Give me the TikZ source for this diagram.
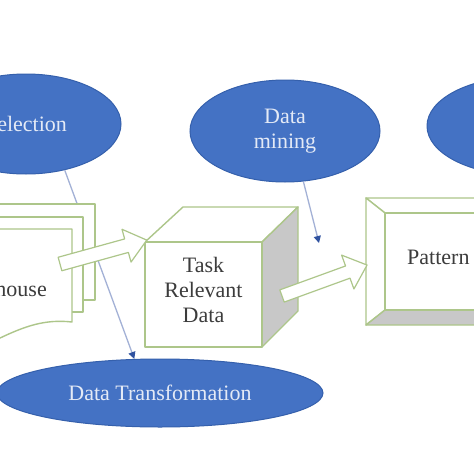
\documentclass[tikz,border=0pt]{standalone}
\usepackage{fontspec}
\setmainfont{Liberation Serif}
\usetikzlibrary{shapes.geometric,arrows.meta}
\definecolor{eblue}{HTML}{4472C4}
\definecolor{eborder}{HTML}{3560AC}
\definecolor{etext}{HTML}{E4EAF6}
\definecolor{boxgreen}{HTML}{ADC68A}
\definecolor{facegrey}{HTML}{C8C8C8}
\definecolor{conncol}{HTML}{A3B1D6}
\definecolor{tipcol}{HTML}{2F52A0}
\definecolor{boxtext}{HTML}{3C3C3C}
\begin{document}
\begin{tikzpicture}[x=1pt,y=-1pt,
  oval/.style={ellipse, fill=eblue, draw=eborder, line width=1pt, text=etext, inner sep=0pt, font=\fontsize{22}{25}\selectfont, align=center},
  face/.style={draw=boxgreen, line width=1.4pt, line join=round, fill=white},
  greyface/.style={face, fill=facegrey},
  conn/.style={draw=conncol, line width=1.3pt, -{Triangle[length=7pt,width=7pt,color=tipcol]}},
  boxlabel/.style={text=boxtext, font=\fontsize{22}{25}\selectfont, align=center, inner sep=0pt},
  blockarrow/.style={face, line width=1.2pt}]
\useasboundingbox (0,0) rectangle (474,474);
\fill[white] (0,0) rectangle (474,474);
\clip (0,0) rectangle (474,474);

% ellipses
\node[oval, minimum width=190pt, minimum height=100pt] (sel) at (26,124) {Selection};
\node[oval, minimum width=190pt, minimum height=102pt] (dm) at (285,131) {Data\\mining};
\node[oval, minimum width=190pt, minimum height=98pt] (ev) at (522,126) {};
\node[oval, minimum width=326pt, minimum height=68pt] (dt) at (160,393) {Data Transformation};

% connectors
\draw[conn] (sel.-50) -- (dt.127);
\coordinate (dmend) at (319,243);
\draw[conn] (dm.-70) -- (dmend);

% document stack
\draw[face] (-60,204) rectangle (95,300);
\draw[face] (-60,217) rectangle (83,312);
\draw[face] (-60,229) -- (72,229) -- (72,322) .. controls (45,319) and (25,326) .. (-2,339) -- (-60,339) -- cycle;
\node[boxlabel, anchor=base east] (dw) at (47,296) {Data Warehouse};

% cube
\draw[face] (145,242) -- (183,207) -- (298,207) -- (262,242) -- cycle;
\draw[greyface] (262,242) -- (298,207) -- (298,311) -- (262,347) -- cycle;
\draw[face] (145,242) rectangle (262,347);
\node[boxlabel] (trd) at (203.5,290) {Task\\Relevant\\Data};

% bevel box
\draw[face] (366,198) -- (490,198) -- (490,213) -- (385,213) -- cycle;
\draw[face] (366,198) -- (385,213) -- (385,310) -- (366,325) -- cycle;
\draw[greyface] (366,325) -- (385,310) -- (490,310) -- (490,325) -- cycle;
\draw[face] (385,213) rectangle (490,310);
\node[boxlabel, anchor=west] (pat) at (407,257) {Pattern};

% block arrows
\begin{scope}[shift={(60,264)}, rotate=15.4]
\draw[blockarrow] (0,-7) -- (69,-7) -- (69,-17) -- (90,0) -- (69,17) -- (69,7) -- (0,7) -- cycle;
\end{scope}
\begin{scope}[shift={(282,296)}, rotate=20]
\draw[blockarrow] (0,-6.5) -- (70,-6.5) -- (70,-18) -- (90.5,0) -- (70,18) -- (70,6.5) -- (0,6.5) -- cycle;
\end{scope}
\end{tikzpicture}
\end{document}
